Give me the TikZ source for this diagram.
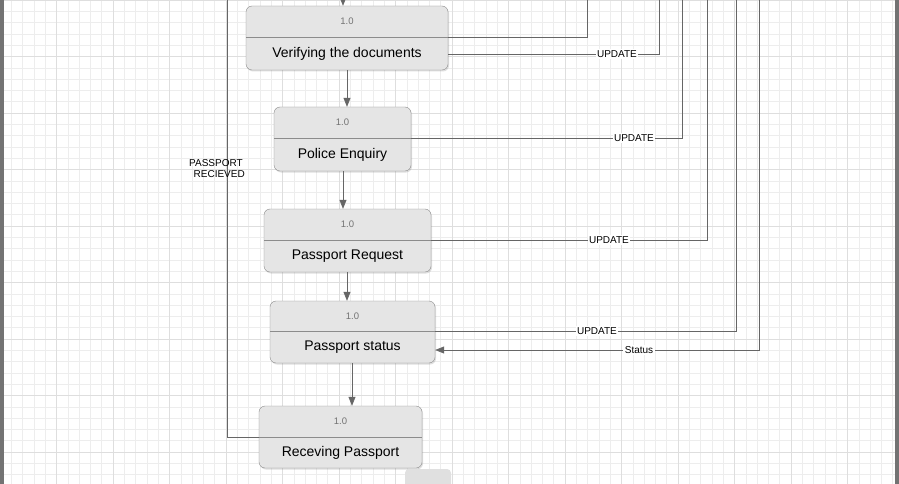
\documentclass[tikz,border=0pt]{standalone}
\usepackage{fontspec}
\setmainfont{Liberation Sans}
\usetikzlibrary{arrows.meta,shadows}
\begin{document}
\begin{tikzpicture}[x=1pt,y=-1pt,
  proc/.style={draw=black!45,fill=black!10,rounded corners=6pt,inner sep=0pt,drop shadow={opacity=0.25,shadow xshift=1pt,shadow yshift=-1.5pt}},
  conn/.style={draw=black!60,line width=0.7pt},
  arr/.style={conn,-{Triangle[length=9pt,width=7pt]}},
  lbl/.style={fill=white,inner sep=1.5pt,font=\fontsize{10}{11}\selectfont},
  num/.style={font=\fontsize{9.5}{10}\selectfont,text=black!55},
  ttl/.style={font=\fontsize{14}{16}\selectfont}]
\useasboundingbox (0,0) rectangle (899,484);
\fill[white] (0,0) rectangle (899,484);
\foreach \x in {0,11.3,...,899} \draw[black!7,line width=0.5pt] (\x,0)--(\x,484);
\foreach \y in {0,11.3,...,484} \draw[black!7,line width=0.5pt] (0,\y)--(899,\y);
\foreach \x in {0,56.5,...,899} \draw[black!13,line width=0.6pt] (\x,0)--(\x,484);
\foreach \y in {0,56.5,...,484} \draw[black!13,line width=0.6pt] (0,\y)--(899,\y);
\fill[black!55] (0,0) rectangle (4,484);
\fill[black!55] (895,0) rectangle (899,484);
% boxes
\def\procbox#1#2#3#4#5#6#7{%
  \node[proc,minimum width={#3-#2},minimum height={#5-#4}] (#1) at ({(#2+#3)/2},{(#4+#5)/2}) {};
  \draw[black!45,line width=0.7pt] (#2,#6)--(#3,#6);
  \node[num] (#1n) at ({(#2+#3)/2},{(#4+#6)/2}) {1.0};
  \node[ttl] (#1t) at ({(#2+#3)/2},{(#6+#5)/2}) {#7};}
\procbox{b1}{246}{448}{6}{70}{37}{Verifying the documents}
\procbox{b2}{274}{411}{107}{171}{138}{Police Enquiry}
\procbox{b3}{264}{431}{209}{272}{240}{Passport Request}
\procbox{b4}{270}{435}{301}{363}{331}{Passport status}
\procbox{b5}{259}{422}{406}{468}{437}{Receving Passport}
\fill[black!12,rounded corners=4pt] (405,469) rectangle (451,490);
% vertical arrows
\coordinate (top) at (343,0);
\draw[arr] (top) -- (b1.north -| top);
\draw[arr] (b1.south -| 347,0) -- (b2.north -| 347,0);
\draw[arr] (b2.south -| 343,0) -- (b3.north -| 343,0);
\draw[arr] (b3.south -| 347,0) -- (b4.north -| 347,0);
\draw[arr] (b4.south -| 352,0) -- (b5.north -| 352,0);
% right lines
\draw[conn] (b1.east |- 0,37) -- (587,37) -- (587,0);
\draw[conn] (b1.east |- 0,54) -- (659,54) -- (659,0);
\node[lbl] (u1) at (617,54) {UPDATE};
\draw[conn] (b2.east |- 0,138) -- (682,138) -- (682,0);
\node[lbl] (u2) at (634,138) {UPDATE};
\draw[conn] (b3.east |- 0,240) -- (707,240) -- (707,0);
\node[lbl] (u3) at (609,240) {UPDATE};
\draw[conn] (b4.east |- 0,331) -- (736,331) -- (736,0);
\node[lbl] (u4) at (597,331) {UPDATE};
\draw[arr] (759,0) -- (759,350) -- (b4.east |- 0,350);
\node[lbl] (s1) at (639,350) {Status};
% left line
\draw[conn] (227,0) -- (227,437) -- (b5.west |- 0,437);
\node[lbl,align=left,fill=none] (pr) at (217,169) {PASSPORT\\\ \,RECIEVED};
\end{tikzpicture}
\end{document}
